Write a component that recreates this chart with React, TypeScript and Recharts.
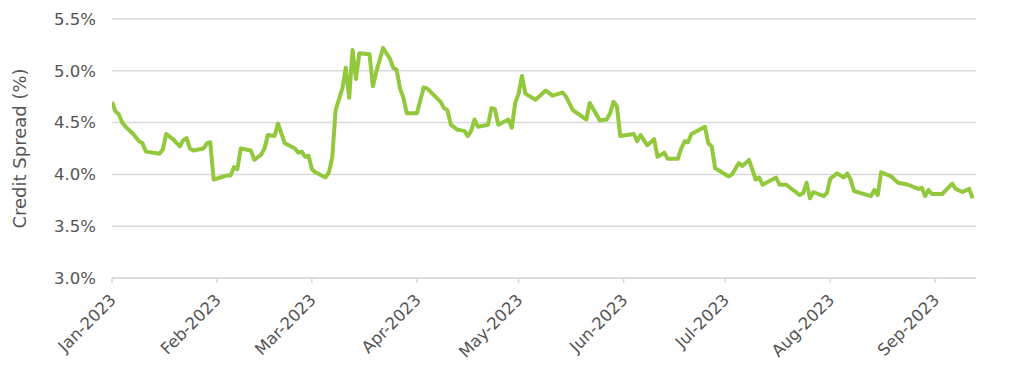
import React from "react"
import { LineChart, Line, XAxis, YAxis, CartesianGrid } from "recharts"

// observation dates (YYYY-MM-DD) and spread values (%)
const dates = [
  "2023-01-01", "2023-01-02", "2023-01-03", "2023-01-04", "2023-01-05", "2023-01-07", "2023-01-09", "2023-01-10",
  "2023-01-11", "2023-01-15", "2023-01-16", "2023-01-17", "2023-01-19", "2023-01-21", "2023-01-22", "2023-01-23",
  "2023-01-24", "2023-01-25", "2023-01-28", "2023-01-29", "2023-01-30", "2023-01-31", "2023-02-02", "2023-02-04",
  "2023-02-05", "2023-02-06", "2023-02-07", "2023-02-08", "2023-02-11", "2023-02-12", "2023-02-14", "2023-02-15",
  "2023-02-16", "2023-02-18", "2023-02-19", "2023-02-21", "2023-02-24", "2023-02-25", "2023-02-26", "2023-02-27",
  "2023-02-28", "2023-03-01", "2023-03-02", "2023-03-05", "2023-03-06", "2023-03-07", "2023-03-08", "2023-03-10",
  "2023-03-11", "2023-03-12", "2023-03-13", "2023-03-14", "2023-03-15", "2023-03-18", "2023-03-19", "2023-03-20",
  "2023-03-22", "2023-03-24", "2023-03-25", "2023-03-26", "2023-03-27", "2023-03-28", "2023-03-29", "2023-04-01",
  "2023-04-03", "2023-04-04", "2023-04-08", "2023-04-09", "2023-04-10", "2023-04-11", "2023-04-13", "2023-04-15",
  "2023-04-16", "2023-04-17", "2023-04-18", "2023-04-19", "2023-04-22", "2023-04-23", "2023-04-24", "2023-04-25",
  "2023-04-28", "2023-04-29", "2023-04-30", "2023-05-01", "2023-05-02", "2023-05-03", "2023-05-06", "2023-05-09",
  "2023-05-11", "2023-05-14", "2023-05-15", "2023-05-17", "2023-05-21", "2023-05-22", "2023-05-25", "2023-05-27",
  "2023-05-28", "2023-05-29", "2023-05-30", "2023-05-31", "2023-06-04", "2023-06-05", "2023-06-06", "2023-06-08",
  "2023-06-10", "2023-06-11", "2023-06-13", "2023-06-14", "2023-06-17", "2023-06-18", "2023-06-19", "2023-06-20",
  "2023-06-21", "2023-06-25", "2023-06-26", "2023-06-27", "2023-06-28", "2023-06-30", "2023-07-02", "2023-07-03",
  "2023-07-05", "2023-07-06", "2023-07-08", "2023-07-10", "2023-07-11", "2023-07-12", "2023-07-16", "2023-07-17",
  "2023-07-19", "2023-07-23", "2023-07-24", "2023-07-25", "2023-07-26", "2023-07-27", "2023-07-30", "2023-07-31",
  "2023-08-01", "2023-08-03", "2023-08-05", "2023-08-06", "2023-08-07", "2023-08-08", "2023-08-10", "2023-08-13",
  "2023-08-14", "2023-08-15", "2023-08-16", "2023-08-19", "2023-08-21", "2023-08-24", "2023-08-27", "2023-08-28",
  "2023-08-29", "2023-08-30", "2023-08-31", "2023-09-03", "2023-09-06", "2023-09-07", "2023-09-09", "2023-09-11",
  "2023-09-12",
]

const spreads = [
  4.70, 4.61, 4.58, 4.50, 4.46, 4.40, 4.32, 4.30,
  4.22, 4.20, 4.24, 4.39, 4.34, 4.27, 4.33, 4.35,
  4.25, 4.23, 4.25, 4.30, 4.31, 3.95, 3.97, 3.99,
  3.99, 4.07, 4.05, 4.25, 4.23, 4.14, 4.19, 4.25,
  4.38, 4.37, 4.49, 4.30, 4.25, 4.21, 4.22, 4.17,
  4.18, 4.05, 4.02, 3.97, 4.02, 4.16, 4.62, 4.83,
  5.03, 4.74, 5.20, 4.92, 5.17, 5.16, 4.85, 4.99,
  5.22, 5.12, 5.03, 5.01, 4.83, 4.74, 4.59, 4.59,
  4.84, 4.83, 4.70, 4.64, 4.62, 4.48, 4.43, 4.42,
  4.37, 4.42, 4.53, 4.46, 4.48, 4.64, 4.63, 4.48,
  4.53, 4.45, 4.69, 4.78, 4.95, 4.78, 4.72, 4.81,
  4.76, 4.79, 4.75, 4.62, 4.53, 4.69, 4.52, 4.53,
  4.59, 4.70, 4.66, 4.37, 4.39, 4.32, 4.38, 4.28,
  4.34, 4.17, 4.21, 4.15, 4.15, 4.25, 4.32, 4.31,
  4.39, 4.46, 4.30, 4.27, 4.06, 4.02, 3.98, 4.00,
  4.11, 4.08, 4.14, 3.95, 3.97, 3.90, 3.97, 3.90,
  3.90, 3.80, 3.82, 3.92, 3.77, 3.83, 3.79, 3.82,
  3.96, 4.01, 3.97, 4.01, 3.95, 3.84, 3.82, 3.79,
  3.85, 3.80, 4.02, 3.98, 3.92, 3.90, 3.86, 3.87,
  3.79, 3.85, 3.81, 3.81, 3.91, 3.86, 3.83, 3.86,
  3.77,
]

const monthTicks = [
  "2023-01-01", "2023-02-01", "2023-03-01", "2023-04-01", "2023-05-01",
  "2023-06-01", "2023-07-01", "2023-08-01", "2023-09-01",
]
const monthNames = ["Jan", "Feb", "Mar", "Apr", "May", "Jun", "Jul", "Aug", "Sep", "Oct", "Nov", "Dec"]
const yTicks = [3.0, 3.5, 4.0, 4.5, 5.0, 5.5]
const domainStart = "2023-01-01"
const domainEnd = "2023-09-13"

const toTime = (s: string) => {
  const [y, m, d] = s.split("-").map(Number)
  return Date.UTC(y, m - 1, d)
}

const data = dates.map((d, i) => ({ t: toTime(d), v: spreads[i] }))

const FONT = "'DejaVu Sans', sans-serif"
const TEXT = "#555555"
const GRID = "#d9d9d9"

const MonthTick = ({ x, y, payload }: any) => {
  const dt = new Date(payload.value)
  const label = `${monthNames[dt.getUTCMonth()]}-${dt.getUTCFullYear()}`
  return (
    <g transform={`translate(${x + 5},${y + 16}) rotate(-45)`}>
      <text x={0} y={0} textAnchor="end" fill={TEXT} fontSize={16.5} fontFamily={FONT}>
        {label}
      </text>
    </g>
  )
}

export default function App() {
  return (
    <div style={{ position: "absolute", left: 0, top: 0, width: 1024, height: 367, background: "#fff" }}>
      <LineChart width={1024} height={367} data={data} margin={{ top: 19, right: 48, bottom: 0, left: 0 }}>
        <CartesianGrid vertical={false} stroke={GRID} strokeWidth={1.5} />
        <XAxis
          dataKey="t"
          type="number"
          scale="time"
          domain={[toTime(domainStart), toTime(domainEnd)]}
          ticks={monthTicks.map(toTime)}
          tick={<MonthTick />}
          height={89}
          stroke={GRID}
          strokeWidth={1.5}
          tickSize={5}
          interval={0}
          allowDataOverflow
        />
        <YAxis
          type="number"
          domain={[3, 5.5]}
          ticks={yTicks}
          width={112}
          axisLine={false}
          tickLine={false}
          tickSize={0}
          tickMargin={16}
          tickFormatter={(v: number) => `${v.toFixed(1)}%`}
          tick={{ fill: TEXT, fontSize: 16.5, fontFamily: FONT }}
          label={{
            content: ({ viewBox }: any) => {
              const cx = 26
              const cy = viewBox.y + viewBox.height / 2
              return (
                <text
                  x={cx}
                  y={cy}
                  transform={`rotate(-90, ${cx}, ${cy})`}
                  textAnchor="middle"
                  fill={TEXT}
                  fontSize={18}
                  fontFamily={FONT}
                >
                  Credit Spread (%)
                </text>
              )
            },
          }}
        />
        <Line
          type="linear"
          dataKey="v"
          stroke="#92c83c"
          strokeWidth={4}
          dot={false}
          isAnimationActive={false}
          strokeLinejoin="round"
        />
      </LineChart>
    </div>
  )
}
